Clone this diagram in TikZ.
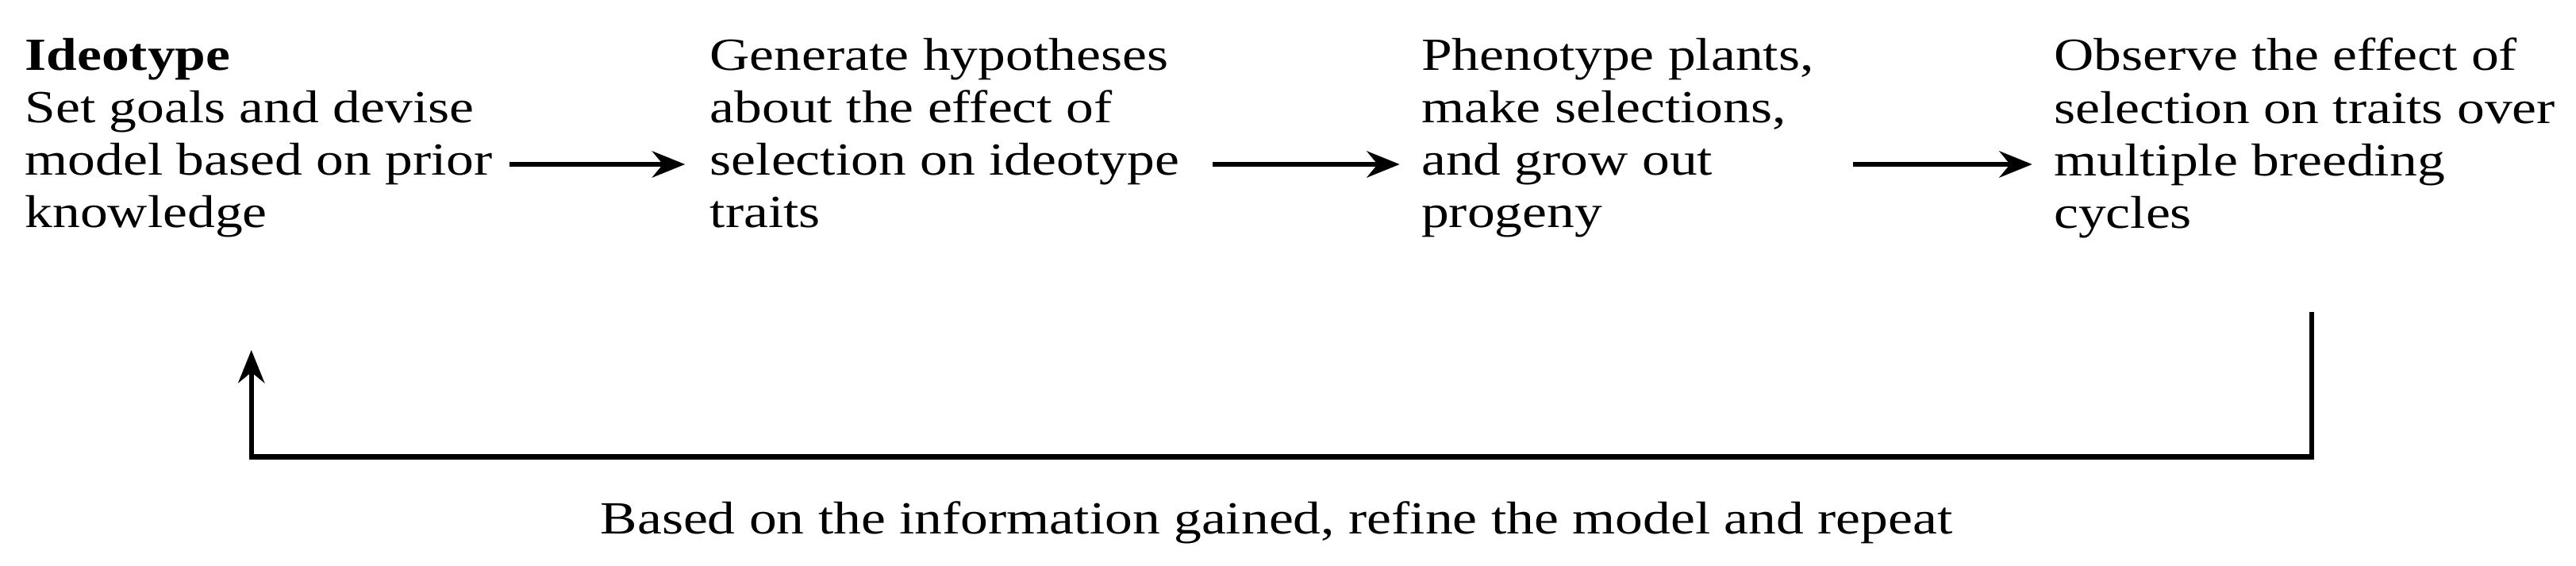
\documentclass[tikz,border=0pt]{standalone}
\usepackage{fontspec}
\setmainfont{Liberation Serif}[FakeStretch=1.2]
\usetikzlibrary{arrows.meta}
\begin{document}
\begin{tikzpicture}[x=1pt,y=1pt,
  txt/.style={anchor=north west,inner sep=0pt,align=left,font=\fontsize{28}{32}\selectfont},
  arr/.style={line width=3pt,-{Stealth[length=20pt,width=16pt]}}]
\useasboundingbox (0,0) rectangle (1568,-344);
\node[txt] (a) at (15,-23) {\textbf{Ideotype}\\Set goals and devise\\model based on prior\\knowledge};
\node[txt] (b) at (432,-23) {Generate hypotheses\\about the effect of\\selection on ideotype\\traits};
\node[txt] (c) at (865,-23) {Phenotype plants,\\make selections,\\and grow out\\progeny};
\node[txt] (d) at (1250,-23) {Observe the effect of\\selection on traits over\\multiple breeding\\cycles};
\coordinate (a1) at (310,-100); \coordinate (a2) at (417,-100);
\coordinate (b1) at (738,-100); \coordinate (b2) at (852,-100);
\coordinate (c1) at (1128,-100); \coordinate (c2) at (1237,-100);
\draw[arr] (a1) -- (a2);
\draw[arr] (b1) -- (b2);
\draw[arr] (c1) -- (c2);
\coordinate (ls) at (1407,-190); \coordinate (le) at (153,-213);
\draw[arr] (ls) -- (1407,-278) -- (153,-278) -- (le);
\node[font=\fontsize{28}{32}\selectfont,inner sep=0pt] (e) at (777,-318) {Based on the information gained, refine the model and repeat};
\end{tikzpicture}
\end{document}
